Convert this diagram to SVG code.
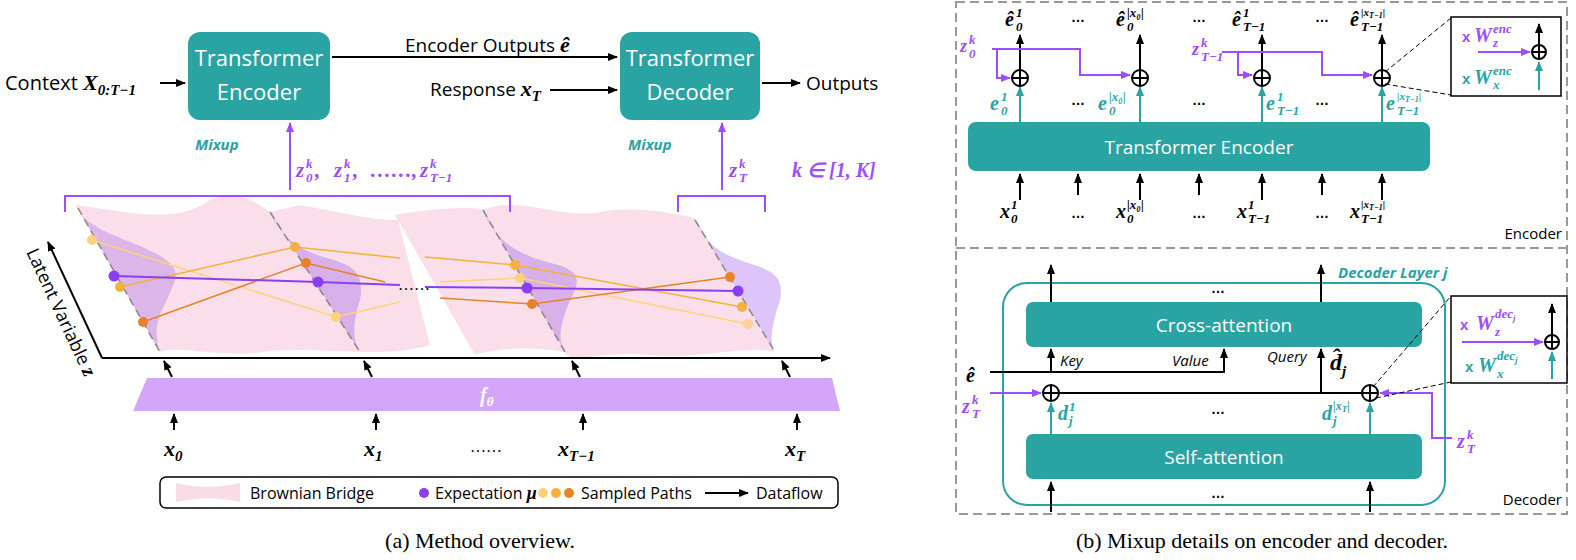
<svg xmlns="http://www.w3.org/2000/svg" width="1576" height="560" viewBox="0 0 1576 560">
<defs>
<marker id="ab" markerWidth="10" markerHeight="10" refX="9" refY="5" orient="auto" markerUnits="userSpaceOnUse"><path d="M0,1 L10,5 L0,9 z" fill="#000"/></marker>
<marker id="at" markerWidth="10" markerHeight="10" refX="9" refY="5" orient="auto" markerUnits="userSpaceOnUse"><path d="M0,1 L10,5 L0,9 z" fill="#2aa3a3"/></marker>
<marker id="ap" markerWidth="10" markerHeight="10" refX="9" refY="5" orient="auto" markerUnits="userSpaceOnUse"><path d="M0,1 L10,5 L0,9 z" fill="#9b4dff"/></marker>
<style>
.box{fill:#2aa3a3}
.wt{fill:#fff;font-family:"Open Sans","Liberation Sans",sans-serif;text-anchor:middle}
.sans{font-family:"Open Sans","Liberation Sans",sans-serif;fill:#000}
.m{font-family:"Liberation Serif",serif;font-style:italic;font-weight:bold}
.s{font-size:13px}
.p{fill:#9b4dff}.t{fill:#2aa3a3}
.k{stroke:#000;stroke-width:2;fill:none}
.kt{stroke:#2aa3a3;stroke-width:2;fill:none}
.kp{stroke:#9b4dff;stroke-width:2;fill:none}
.cir{stroke:#000;stroke-width:2;fill:#fff}
.dash{stroke:#888;stroke-width:1.5;stroke-dasharray:8,5;fill:none}
.thin{stroke:#000;stroke-width:1;stroke-dasharray:5,3;fill:none}
.cap{font-family:"Liberation Serif",serif;font-size:22px;text-anchor:middle}
.mx{font-family:"Open Sans","Liberation Sans",sans-serif;font-style:italic;font-weight:bold;font-size:15px;fill:#2aa3a3}
</style>
</defs>
<rect width="1576" height="560" fill="#fff"/>

<g id="encoder"><rect class="box" x="188" y="32" width="142" height="88" rx="12"/><text class="wt" x="259" y="66" font-size="22">Transformer</text><text class="wt" x="259" y="100" font-size="22">Encoder</text></g>
<g id="decoder"><rect class="box" x="620" y="32" width="140" height="88" rx="12"/><text class="wt" x="690" y="66" font-size="22">Transformer</text><text class="wt" x="690" y="100" font-size="22">Decoder</text></g>
<g id="labels-top">
<text class="sans" x="5" y="90" font-size="20">Context <tspan class="m" font-size="22">X</tspan><tspan class="m" font-size="15" dy="5">0:T−1</tspan></text>
<text class="sans" x="405" y="52" font-size="19">Encoder Outputs <tspan class="m" font-size="22">ê</tspan></text>
<text class="sans" x="430" y="96" font-size="19">Response <tspan class="m" font-size="22">x</tspan><tspan class="m" font-size="15" dy="5">T</tspan></text>
<text class="sans" x="806" y="90" font-size="19">Outputs</text>
<text class="mx" x="195" y="150">Mixup</text>
<text class="mx" x="628" y="150">Mixup</text>
<g class="m p" font-size="21">
<text x="296" y="177">z</text><text class="s" x="306" y="168">k</text><text class="s" x="306" y="182">0</text><text x="315" y="177">,</text>
<text x="334" y="177">z</text><text class="s" x="344" y="168">k</text><text class="s" x="344" y="182">1</text><text x="353" y="177">,</text>
<text x="370" y="177">……,</text>
<text x="420" y="177">z</text><text class="s" x="430" y="168">k</text><text class="s" x="430" y="182">T−1</text>
<text x="729" y="177">z</text><text class="s" x="739" y="168">k</text><text class="s" x="739" y="182">T</text>
<text x="792" y="177" font-size="20">k ∈ [1, K]</text>
</g>
</g>

<g id="plot">
<path d="M75,205 C130,212 175,225 210,200 C240,188 260,205 270,212 L300,205 C340,212 370,220 398,220 L430,345 C380,360 320,345 262,352 C220,358 180,345 160,352 Z" fill="#fadbe8" opacity="0.9"/>
<path d="M395,215 C420,210 470,205 483,210 C520,195 560,220 600,212 C640,205 680,215 695,218 L775,352 C740,345 700,360 650,355 C600,350 570,365 565,352 C520,345 490,350 475,355 Z" fill="#fadbe8" opacity="0.9"/>
<path d="M82,215 C100,240 185,250 175,280 C165,310 150,320 160,352 Z" fill="#c99be8" opacity="0.6"/>
<path d="M270,212 C300,280 370,240 360,300 C350,330 355,345 360,352 Z" fill="#c99be8" opacity="0.7"/>
<path d="M483,210 C510,280 590,250 575,290 C555,330 560,345 565,352 Z" fill="#c99be8" opacity="0.7"/>
<path d="M695,220 C720,280 790,250 780,300 C770,330 770,345 775,352 Z" fill="#d4b5f8" opacity="0.8"/>
<line class="dash" x1="78" y1="208" x2="160" y2="352"/>
<line class="dash" x1="270" y1="212" x2="360" y2="352"/>
<line class="dash" x1="483" y1="210" x2="565" y2="352"/>
<line class="dash" x1="695" y1="220" x2="775" y2="352"/>
<g stroke-width="1.5" fill="none">
<polyline points="92,240 336,317 400,302" stroke="#ffd27a"/>
<polyline points="120,287 295,247 400,258" stroke="#f6b13a"/>
<polyline points="143,322 306,263 385,282" stroke="#e8822a"/>
<polyline points="425,257 515,265 742,307" stroke="#f6b13a"/>
<polyline points="440,282 520,278 748,324" stroke="#ffd27a"/>
<polyline points="440,298 532,304 730,277" stroke="#e8822a"/>
<polyline points="114,276 318,282 400,285" stroke="#8a3ef5" stroke-width="2"/>
<polyline points="425,287 527,288 738,291" stroke="#8a3ef5" stroke-width="2"/>
</g>
<text x="398" y="290" font-family="Liberation Serif" font-size="16">……</text>
<circle cx="92" cy="240" r="5" fill="#ffd27a"/><circle cx="120" cy="287" r="5" fill="#f6b13a"/><circle cx="143" cy="322" r="5" fill="#e8822a"/>
<circle cx="295" cy="247" r="5" fill="#f6b13a"/><circle cx="306" cy="263" r="5" fill="#e8822a"/><circle cx="336" cy="317" r="5" fill="#ffd27a"/>
<circle cx="515" cy="265" r="5" fill="#f6b13a"/><circle cx="520" cy="278" r="5" fill="#ffd27a"/><circle cx="532" cy="304" r="5" fill="#e8822a"/>
<circle cx="730" cy="277" r="5" fill="#e8822a"/><circle cx="742" cy="307" r="5" fill="#f6b13a"/><circle cx="748" cy="324" r="5" fill="#ffcf9a"/>
<circle cx="114" cy="276" r="5.5" fill="#8a3ef5"/><circle cx="318" cy="282" r="5.5" fill="#8a3ef5"/><circle cx="527" cy="288" r="5.5" fill="#8a3ef5"/><circle cx="738" cy="291" r="5.5" fill="#8a3ef5"/>
<line class="k" x1="102" y1="358" x2="48" y2="242" marker-end="url(#ab)" stroke-width="1.5"/>
<line class="k" x1="102" y1="358" x2="830" y2="358" marker-end="url(#ab)" stroke-width="1.5"/>
<text class="sans" font-size="18" transform="translate(26,252) rotate(65)">Latent Variable <tspan class="m" font-size="20">z</tspan></text>
</g>

<g id="f-theta"><path d="M147,378 L832,378 L840,411 L133,411 Z" fill="#d4a6f8"/><text x="480" y="402" font-family="Liberation Serif" font-style="italic" font-weight="bold" font-size="20" fill="#fff">f<tspan font-size="13" dy="4">θ</tspan></text></g>

<g id="x-labels" class="m" font-size="22">
<text x="164" y="456">x<tspan font-size="15" dy="5">0</tspan></text>
<text x="364" y="456">x<tspan font-size="15" dy="5">1</tspan></text>
<text x="470" y="452" font-weight="normal" font-style="normal" font-size="16">……</text>
<text x="558" y="456">x<tspan font-size="15" dy="5">T−1</tspan></text>
<text x="785" y="456">x<tspan font-size="15" dy="5">T</tspan></text>
</g>

<g id="connectors-left">
<line class="k" x1="160" y1="83" x2="185" y2="83" marker-end="url(#ab)"/>
<line class="k" x1="332" y1="57" x2="617" y2="57" marker-end="url(#ab)"/>
<line class="k" x1="550" y1="90" x2="617" y2="90" marker-end="url(#ab)"/>
<line class="k" x1="762" y1="83" x2="800" y2="83" marker-end="url(#ab)"/>
<line class="kp" x1="290" y1="190" x2="290" y2="123" marker-end="url(#ap)"/>
<line class="kp" x1="722" y1="190" x2="722" y2="123" marker-end="url(#ap)"/>
<path class="kp" d="M65,212 V196 H510 V212 M678,212 V196 H765 V212"/>
<g stroke-width="1.5">
<line class="k" x1="172" y1="377" x2="164" y2="361" marker-end="url(#ab)"/>
<line class="k" x1="372" y1="377" x2="364" y2="361" marker-end="url(#ab)"/>
<line class="k" x1="580" y1="377" x2="572" y2="361" marker-end="url(#ab)"/>
<line class="k" x1="790" y1="377" x2="782" y2="361" marker-end="url(#ab)"/>
<line class="k" x1="174" y1="430" x2="174" y2="414" marker-end="url(#ab)"/>
<line class="k" x1="376" y1="430" x2="376" y2="414" marker-end="url(#ab)"/>
<line class="k" x1="583" y1="430" x2="583" y2="414" marker-end="url(#ab)"/>
<line class="k" x1="797" y1="430" x2="797" y2="414" marker-end="url(#ab)"/>
</g>
</g>

<g id="legend">
<rect x="160" y="477" width="678" height="31" rx="6" fill="#fff" stroke="#000" stroke-width="1.5"/>
<path d="M176,483 C200,488 215,488 240,483 L240,502 C215,497 200,497 176,502 Z" fill="#fadbe8"/>
<text class="sans" x="250" y="499" font-size="16">Brownian Bridge</text>
<circle cx="424" cy="493" r="5" fill="#8a3ef5"/>
<text class="sans" x="435" y="499" font-size="16">Expectation <tspan class="m" font-size="18">μ</tspan></text>
<circle cx="543" cy="493" r="5" fill="#ffd27a"/><circle cx="556" cy="493" r="5" fill="#f6b13a"/><circle cx="569" cy="493" r="5" fill="#e8822a"/>
<text class="sans" x="581" y="499" font-size="16">Sampled Paths</text>
<line class="k" x1="705" y1="493" x2="748" y2="493" marker-end="url(#ab)"/>
<text class="sans" x="756" y="499" font-size="16">Dataflow</text>
</g>
<text class="cap" x="480" y="548">(a) Method overview.</text>
<text class="cap" x="1262" y="548">(b) Mixup details on encoder and decoder.</text>

<rect x="956" y="2" width="611" height="512" fill="none" stroke="#999" stroke-width="2" stroke-dasharray="9,5"/>
<line x1="956" y1="248" x2="1567" y2="248" stroke="#999" stroke-width="2" stroke-dasharray="9,5"/>
<text class="sans" x="1562" y="239" font-size="15" text-anchor="end">Encoder</text>
<text class="sans" x="1562" y="505" font-size="15" text-anchor="end">Decoder</text>

<g id="enc-detail">
<rect class="box" x="968" y="122" width="462" height="49" rx="8"/>
<text class="wt" x="1199" y="154" font-size="19">Transformer Encoder</text>
<line class="k" x1="1020" y1="200" x2="1020" y2="174" marker-end="url(#ab)"/>
<line class="k" x1="1078" y1="195" x2="1078" y2="174" marker-end="url(#ab)"/>
<line class="k" x1="1140" y1="200" x2="1140" y2="174" marker-end="url(#ab)"/>
<line class="k" x1="1199" y1="195" x2="1199" y2="174" marker-end="url(#ab)"/>
<line class="k" x1="1262" y1="200" x2="1262" y2="174" marker-end="url(#ab)"/>
<line class="k" x1="1322" y1="195" x2="1322" y2="174" marker-end="url(#ab)"/>
<line class="k" x1="1382" y1="200" x2="1382" y2="174" marker-end="url(#ab)"/>
<line class="kt" x1="1020" y1="122" x2="1020" y2="87" marker-end="url(#at)"/>
<line class="kt" x1="1140" y1="122" x2="1140" y2="87" marker-end="url(#at)"/>
<line class="kt" x1="1262" y1="122" x2="1262" y2="87" marker-end="url(#at)"/>
<line class="kt" x1="1382" y1="122" x2="1382" y2="87" marker-end="url(#at)"/>
<line class="k" x1="1020" y1="70" x2="1020" y2="35" marker-end="url(#ab)"/>
<line class="k" x1="1140" y1="70" x2="1140" y2="35" marker-end="url(#ab)"/>
<line class="k" x1="1262" y1="70" x2="1262" y2="35" marker-end="url(#ab)"/>
<line class="k" x1="1382" y1="70" x2="1382" y2="35" marker-end="url(#ab)"/>
<path class="kp" d="M992,49 H1080 V75 H1130" marker-end="url(#ap)"/>
<path class="kp" d="M997,49 V78 H1010" marker-end="url(#ap)"/>
<path class="kp" d="M1222,52 H1322 V75 H1372" marker-end="url(#ap)"/>
<path class="kp" d="M1238,52 V75 H1252" marker-end="url(#ap)"/>
<circle class="cir" cx="1020" cy="78" r="8"/><path class="k" d="M1012,78 H1028 M1020,70 V86"/>
<circle class="cir" cx="1140" cy="78" r="8"/><path class="k" d="M1132,78 H1148 M1140,70 V86"/>
<circle class="cir" cx="1262" cy="78" r="8"/><path class="k" d="M1254,78 H1270 M1262,70 V86"/>
<circle class="cir" cx="1382" cy="78" r="8"/><path class="k" d="M1374,78 H1390 M1382,70 V86"/>
<g class="m" font-size="20">
<text x="1005" y="26">ê</text><text class="s" x="1016" y="17">1</text><text class="s" x="1016" y="31">0</text>
<text x="1116" y="26">ê</text><text class="s" x="1127" y="17">|x₀|</text><text class="s" x="1127" y="31">0</text>
<text x="1232" y="26">ê</text><text class="s" x="1243" y="17">1</text><text class="s" x="1243" y="31">T−1</text>
<text x="1350" y="26">ê</text><text x="1361" y="16" font-size="11">|x<tspan font-size="8" dy="2">T−1</tspan><tspan dy="-2">|</tspan></text><text class="s" x="1361" y="31">T−1</text>
<text class="p" x="960" y="52" font-size="18">z</text><text class="p s" x="969" y="44">k</text><text class="p s" x="969" y="58">0</text>
<text class="p" x="1192" y="55" font-size="18">z</text><text class="p s" x="1201" y="47">k</text><text class="p s" x="1201" y="61">T−1</text>
<g class="t">
<text x="990" y="110">e</text><text class="s" x="1001" y="101">1</text><text class="s" x="1001" y="115">0</text>
<text x="1098" y="110">e</text><text class="s" x="1109" y="101">|x₀|</text><text class="s" x="1109" y="115">0</text>
<text x="1266" y="110">e</text><text class="s" x="1277" y="101">1</text><text class="s" x="1277" y="115">T−1</text>
<text x="1386" y="110">e</text><text x="1397" y="100" font-size="11">|x<tspan font-size="8" dy="2">T−1</tspan><tspan dy="-2">|</tspan></text><text class="s" x="1397" y="115">T−1</text>
</g>
<text x="1000" y="218">x</text><text class="s" x="1011" y="209">1</text><text class="s" x="1011" y="223">0</text>
<text x="1116" y="218">x</text><text class="s" x="1127" y="209">|x₀|</text><text class="s" x="1127" y="223">0</text>
<text x="1237" y="218">x</text><text class="s" x="1248" y="209">1</text><text class="s" x="1248" y="223">T−1</text>
<text x="1350" y="218">x</text><text x="1361" y="208" font-size="11">|x<tspan font-size="8" dy="2">T−1</tspan><tspan dy="-2">|</tspan></text><text class="s" x="1361" y="223">T−1</text>
</g>
<g font-family="Liberation Sans" font-weight="bold" font-size="14" text-anchor="middle">
<text x="1078" y="22">…</text><text x="1199" y="22">…</text><text x="1322" y="22">…</text>
<text x="1078" y="105">…</text><text x="1199" y="105">…</text><text x="1322" y="105">…</text>
<text x="1078" y="218">…</text><text x="1199" y="218">…</text><text x="1322" y="218">…</text>
</g>
<g id="enc-inset">
<path class="thin" d="M1385,72 L1451,18 M1385,84 L1451,95"/>
<rect x="1451" y="17" width="110" height="79" fill="#fff" stroke="#000" stroke-width="1.5"/>
<text class="p" x="1462" y="42" font-family="Liberation Sans" font-weight="bold" font-size="15">x</text>
<text class="m p" x="1474" y="42" font-size="20">W</text><text class="m p s" x="1493" y="33">enc</text><text class="m p s" x="1493" y="47">z</text>
<text class="t" x="1462" y="84" font-family="Liberation Sans" font-weight="bold" font-size="15">x</text>
<text class="m t" x="1474" y="84" font-size="20">W</text><text class="m t s" x="1493" y="75">enc</text><text class="m t s" x="1493" y="89">x</text>
<line class="kp" x1="1478" y1="52" x2="1530" y2="52" marker-end="url(#ap)"/>
<line class="kt" x1="1539" y1="90" x2="1539" y2="62" marker-end="url(#at)"/>
<line class="k" x1="1539" y1="44" x2="1539" y2="24" marker-end="url(#ab)"/>
<circle class="cir" cx="1539" cy="52" r="7"/><path class="k" d="M1532,52 H1546 M1539,45 V59"/>
</g>
</g>

<g id="dec-detail">
<rect x="1003" y="283" width="442" height="222" rx="24" fill="none" stroke="#2aa3a3" stroke-width="2"/>
<text class="mx" x="1338" y="278" font-size="15">Decoder Layer j</text>
<rect class="box" x="1026" y="302" width="396" height="45" rx="7"/>
<text class="wt" x="1224" y="332" font-size="19">Cross-attention</text>
<rect class="box" x="1026" y="434" width="396" height="45" rx="7"/>
<text class="wt" x="1224" y="464" font-size="19">Self-attention</text>
<line class="k" x1="1051" y1="302" x2="1051" y2="265" marker-end="url(#ab)"/>
<line class="k" x1="1321" y1="302" x2="1321" y2="265" marker-end="url(#ab)"/>
<path class="k" d="M990,372 H1224 V349" marker-end="url(#ab)"/>
<line class="k" x1="1051" y1="372" x2="1051" y2="349" marker-end="url(#ab)"/>
<line class="k" x1="1059" y1="393" x2="1362" y2="393"/>
<line class="k" x1="1321" y1="393" x2="1321" y2="349" marker-end="url(#ab)"/>
<line class="kp" x1="990" y1="393" x2="1041" y2="393" marker-end="url(#ap)"/>
<path class="kp" d="M1452,438 H1432 V393 H1380" marker-end="url(#ap)"/>
<line class="kt" x1="1051" y1="434" x2="1051" y2="403" marker-end="url(#at)"/>
<line class="kt" x1="1370" y1="434" x2="1370" y2="403" marker-end="url(#at)"/>
<line class="k" x1="1051" y1="512" x2="1051" y2="482" marker-end="url(#ab)"/>
<line class="k" x1="1370" y1="512" x2="1370" y2="482" marker-end="url(#ab)"/>
<circle class="cir" cx="1051" cy="393" r="8"/><path class="k" d="M1043,393 H1059 M1051,385 V401"/>
<circle class="cir" cx="1370" cy="393" r="8"/><path class="k" d="M1362,393 H1378 M1370,385 V401"/>
<g font-family="Open Sans,Liberation Sans,sans-serif" font-style="italic" font-size="15">
<text x="1060" y="366">Key</text><text x="1172" y="366">Value</text><text x="1267" y="362">Query</text>
</g>
<g font-family="Liberation Sans" font-weight="bold" font-size="14" text-anchor="middle">
<text x="1218" y="293">…</text><text x="1218" y="414">…</text><text x="1218" y="498">…</text>
</g>
<g class="m" font-size="20">
<text x="966" y="382">ê</text>
<text x="1330" y="370" font-size="24">d̂<tspan font-size="15" dy="6">j</tspan></text>
<text class="p" x="962" y="413">z</text><text class="p s" x="972" y="404">k</text><text class="p s" x="972" y="418">T</text>
<text class="p" x="1457" y="448">z</text><text class="p s" x="1467" y="439">k</text><text class="p s" x="1467" y="453">T</text>
<text class="t" x="1058" y="420">d</text><text class="t s" x="1069" y="411">1</text><text class="t s" x="1069" y="425">j</text>
<text class="t" x="1322" y="420">d</text><text class="t" x="1333" y="410" font-size="12">|x<tspan font-size="9" dy="2">T</tspan><tspan dy="-2">|</tspan></text><text class="t s" x="1333" y="425">j</text>
</g>
<g id="dec-inset">
<path class="thin" d="M1373,387 L1451,296 M1376,398 L1451,382"/>
<rect x="1451" y="296" width="116" height="87" fill="#fff" stroke="#000" stroke-width="1.5"/>
<text class="p" x="1460" y="330" font-family="Liberation Sans" font-weight="bold" font-size="15">x</text>
<text class="m p" x="1476" y="330" font-size="20">W</text><text class="m p s" x="1495" y="318">dec<tspan font-size="9" dy="3">j</tspan></text><text class="m p s" x="1495" y="336">z</text>
<text class="t" x="1465" y="372" font-family="Liberation Sans" font-weight="bold" font-size="15">x</text>
<text class="m t" x="1478" y="372" font-size="20">W</text><text class="m t s" x="1497" y="360">dec<tspan font-size="9" dy="3">j</tspan></text><text class="m t s" x="1497" y="378">x</text>
<line class="kp" x1="1462" y1="342" x2="1543" y2="342" marker-end="url(#ap)"/>
<line class="kt" x1="1552" y1="379" x2="1552" y2="352" marker-end="url(#at)"/>
<line class="k" x1="1552" y1="334" x2="1552" y2="304" marker-end="url(#ab)"/>
<circle class="cir" cx="1552" cy="342" r="7"/><path class="k" d="M1545,342 H1559 M1552,335 V349"/>
</g>
</g>
</svg>
